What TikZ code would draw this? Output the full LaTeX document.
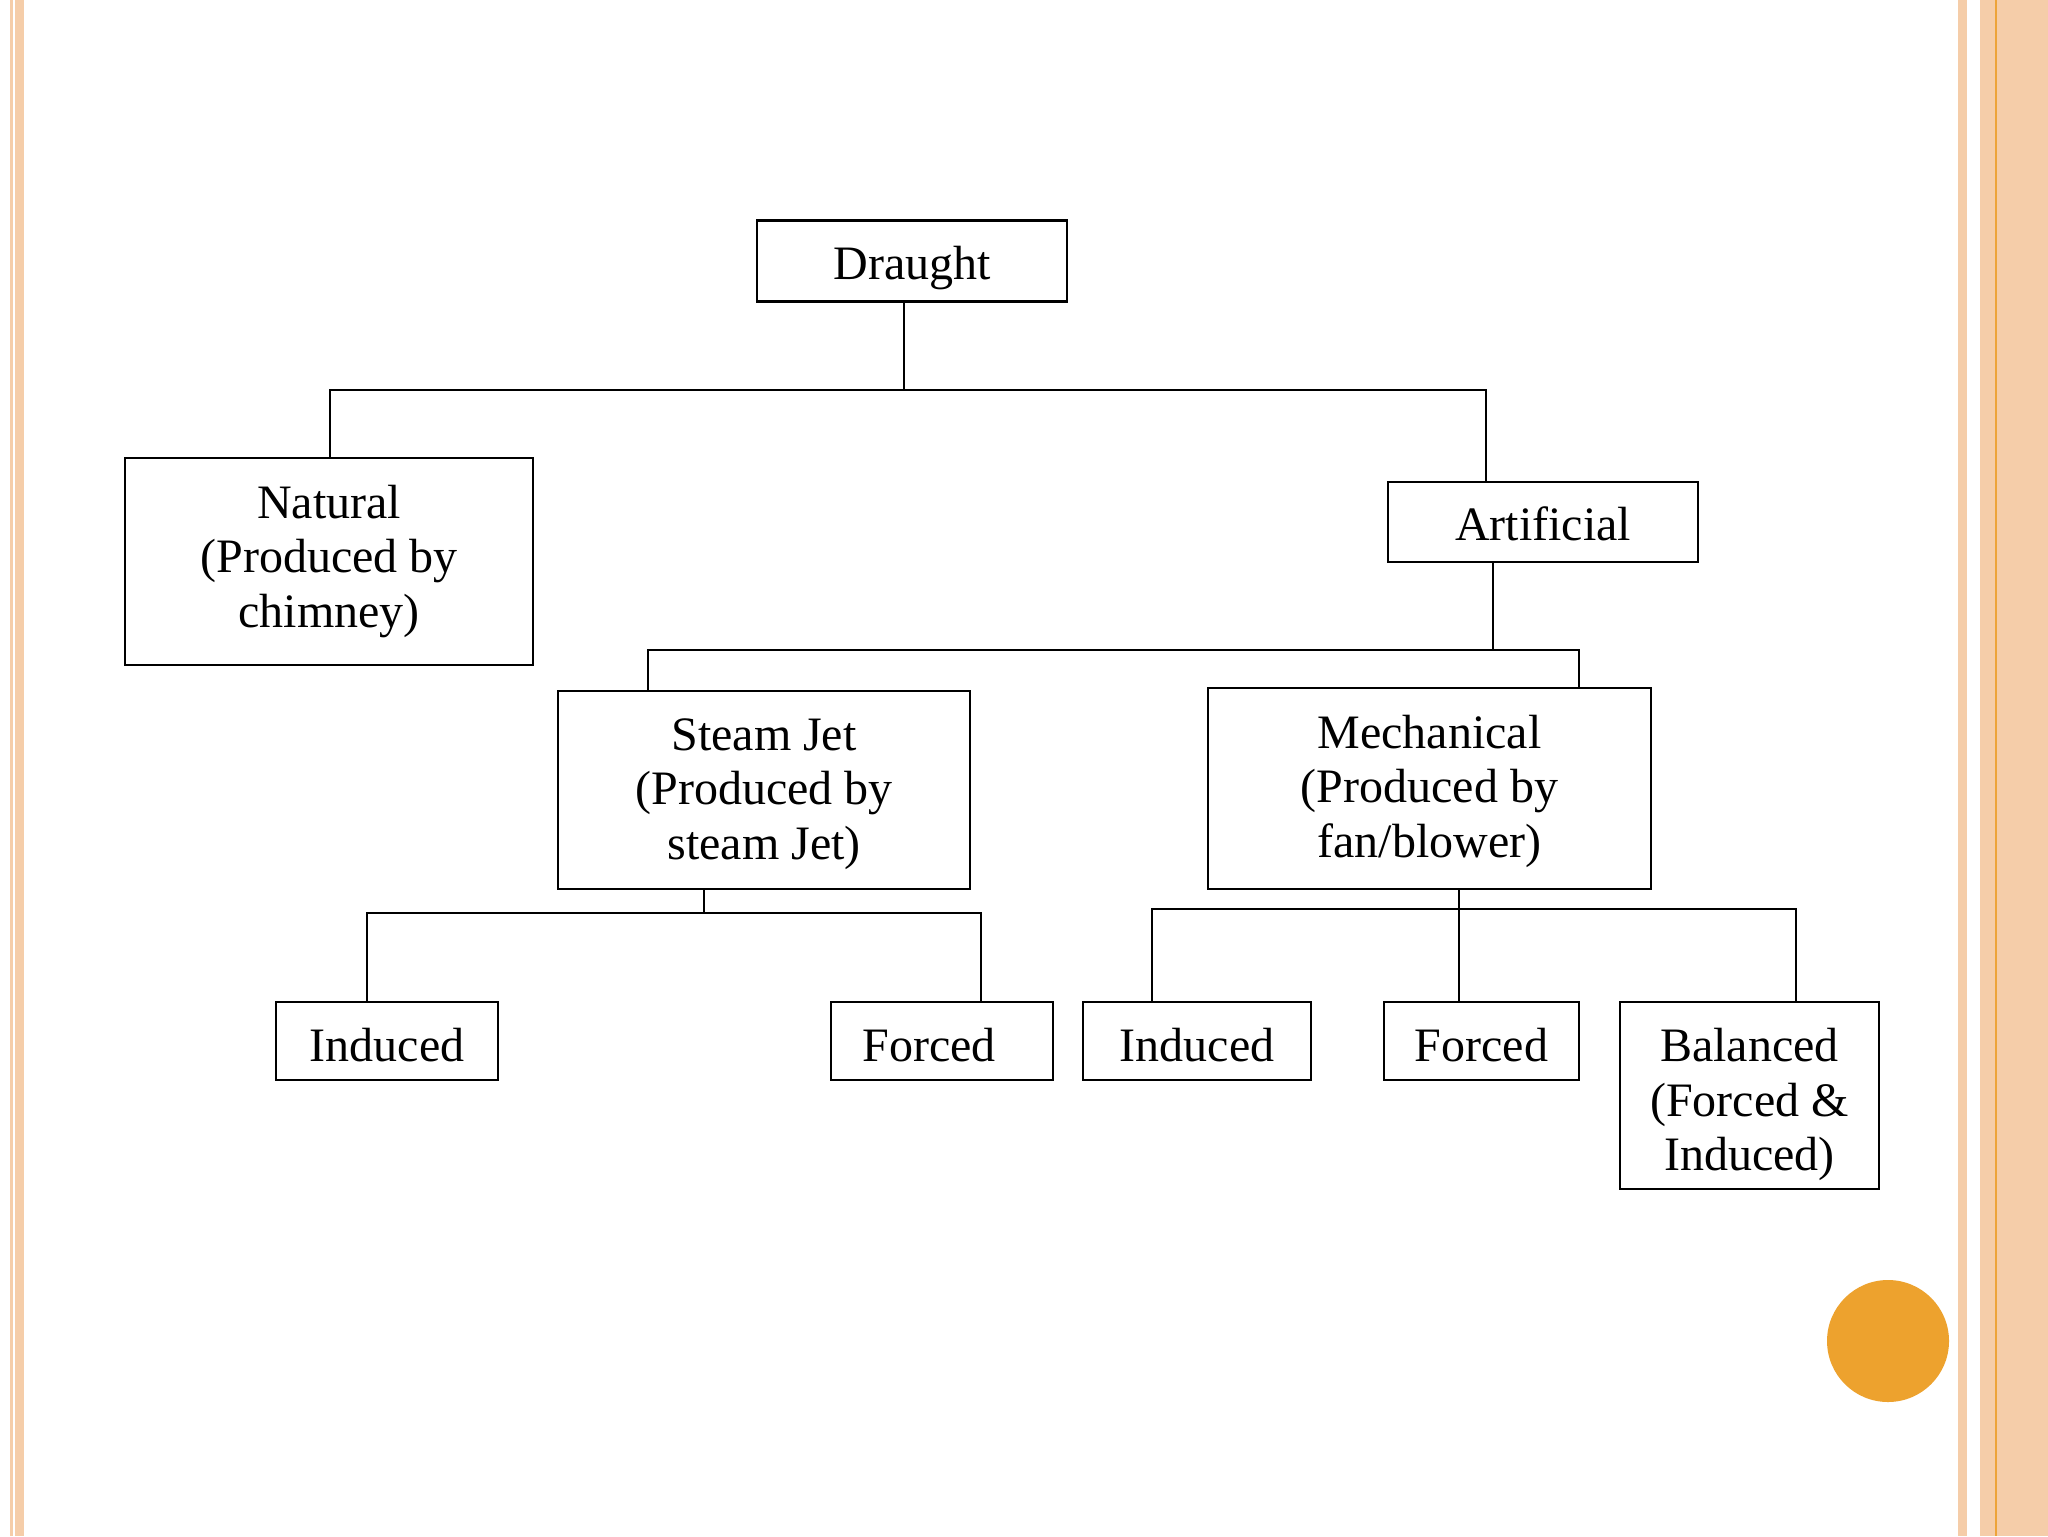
\documentclass[tikz,border=0pt]{standalone}
\usepackage{fontspec}
\setmainfont{Liberation Serif}
\definecolor{peach}{HTML}{F5CDA9}
\definecolor{orangeline}{HTML}{EDA43A}
\definecolor{dot}{HTML}{EDA22E}
\tikzset{
  box/.style={draw, line width=1.4pt, inner sep=0pt},
  txt/.style={inner sep=0pt, align=center,
    font=\fontsize{24pt}{27.3pt}\selectfont},
  link/.style={line width=1.2pt}
}
\begin{document}
\begin{tikzpicture}[x=0.5pt,y=-0.5pt]
\useasboundingbox (0,0) rectangle (2048,1536);
\fill[white] (0,0) rectangle (2048,1536);
% side stripes
\fill[peach] (10,0) rectangle (13,1536);
\fill[peach] (15,0) rectangle (24,1536);
\fill[peach] (1958,0) rectangle (1967,1536);
\fill[peach] (1980,0) rectangle (2048,1536);
\fill[orangeline] (1995,0) rectangle (1997,1536);
% circle
\fill[dot] (1888,1341) circle (61);
% nodes
\node[box, minimum width=155pt, minimum height=40.5pt,
  label={[txt,yshift=-3.3pt]center:Draught}] (draught) at (912,261) {};
\node[box, minimum width=204pt, minimum height=103.5pt,
  label={[txt]center:Natural\\(Produced by\\chimney)}] (nat) at (329,561.5) {};
\node[box, minimum width=155pt, minimum height=40pt,
  label={[txt,yshift=-0.7pt]center:Artificial}] (art) at (1543,522) {};
\node[box, minimum width=206pt, minimum height=99pt,
  label={[txt,yshift=-2pt]center:Steam Jet\\(Produced by\\steam Jet)}] (steam) at (764,790) {};
\node[box, minimum width=221.5pt, minimum height=100.5pt,
  label={[txt,yshift=-1.3pt]center:Mechanical\\(Produced by\\fan/blower)}] (mech) at (1429.5,788.5) {};
\node[box, minimum width=111pt, minimum height=39pt,
  label={[txt,yshift=-2pt]center:Induced}] (ind1) at (387,1041) {};
\node[box, minimum width=111pt, minimum height=39pt,
  label={[txt,yshift=-2pt,xshift=-6.5pt]center:Forced}] (for1) at (942,1041) {};
\node[box, minimum width=114pt, minimum height=39pt,
  label={[txt,yshift=-2pt]center:Induced}] (ind2) at (1197,1041) {};
\node[box, minimum width=97.5pt, minimum height=39pt,
  label={[txt,yshift=-2pt]center:Forced}] (for2) at (1481.5,1041) {};
\node[box, minimum width=129.5pt, minimum height=93.5pt,
  label={[txt,yshift=-4.5pt]center:Balanced\\(Forced \&\\Induced)}] (bal) at (1749.5,1095.5) {};
% junctions
\coordinate (b1M) at (904,390);
\coordinate (b1L) at (330,390);
\coordinate (b1R) at (1486,390);
\coordinate (b2M) at (1493,650);
\coordinate (b2L) at (648,650);
\coordinate (b2R) at (1579,650);
\coordinate (b3M) at (704,913);
\coordinate (b3L) at (367,913);
\coordinate (b3R) at (981,913);
\coordinate (b4M) at (1459,909);
\coordinate (b4L) at (1152,909);
\coordinate (b4R) at (1796,909);
% connectors
\draw[link] (draught.south -| b1M) -- (b1M);
\draw[link] (nat.north -| b1L) -- (b1L) -- (b1R) -- (art.north -| b1R);
\draw[link] (art.south -| b2M) -- (b2M);
\draw[link] (steam.north -| b2L) -- (b2L) -- (b2R) -- (mech.north -| b2R);
\draw[link] (steam.south -| b3M) -- (b3M);
\draw[link] (ind1.north -| b3L) -- (b3L) -- (b3R) -- (for1.north -| b3R);
\draw[link] (mech.south -| b4M) -- (b4M);
\draw[link] (ind2.north -| b4L) -- (b4L) -- (b4R) -- (bal.north -| b4R);
\draw[link] (b4M) -- (for2.north -| b4M);
\end{tikzpicture}
\end{document}
